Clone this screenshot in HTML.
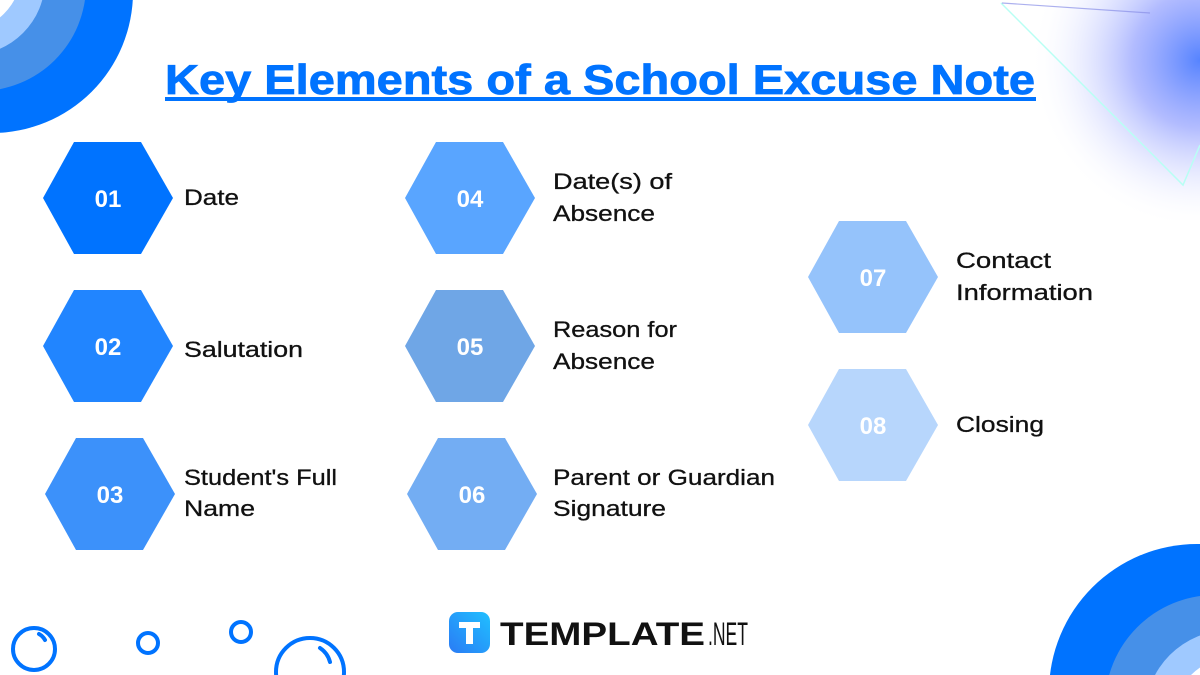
<!DOCTYPE html>
<html><head><meta charset="utf-8"><style>
html,body{margin:0;padding:0;background:#fff;width:1200px;height:675px;overflow:hidden;}
svg{display:block;}
</style></head><body>
<svg width="1200" height="675" viewBox="0 0 1200 675" xmlns="http://www.w3.org/2000/svg">
<defs>
<radialGradient id="glow" cx="1200" cy="60" r="170" gradientUnits="userSpaceOnUse">
<stop offset="0" stop-color="#4d7dff" stop-opacity="0.95"/>
<stop offset="0.4" stop-color="#7f8fff" stop-opacity="0.6"/>
<stop offset="1" stop-color="#ffffff" stop-opacity="0"/>
</radialGradient>
<linearGradient id="lg" x1="0" y1="1" x2="1" y2="0">
<stop offset="0" stop-color="#2a7bf5"/><stop offset="1" stop-color="#20c0ff"/>
</linearGradient>
</defs>
<rect width="1200" height="675" fill="#fff"/>
<rect x="1000" y="0" width="200" height="220" fill="url(#glow)"/>
<polyline points="1001,3 1183,185 1200,145" fill="none" stroke="#b8fff4" stroke-width="1.5"/>
<line x1="1002" y1="3" x2="1150" y2="13" stroke="#8a90e8" stroke-width="1.2" opacity="0.7"/>
<circle cx="-8" cy="-8" r="141" fill="#0073ff"/>
<circle cx="-20" cy="-15" r="106" fill="#4690e8"/>
<circle cx="-30" cy="-20" r="75" fill="#9fc9ff"/>
<circle cx="-40" cy="-30" r="62" fill="#fff"/>
<circle cx="1197" cy="692" r="148" fill="#0073ff"/>
<circle cx="1215" cy="705" r="110" fill="#4690e8"/>
<circle cx="1230" cy="715" r="85" fill="#9fc9ff"/>
<circle cx="1240" cy="725" r="70" fill="#fff"/>
<g fill="none" stroke="#0073ff" stroke-width="4">
<circle cx="34" cy="649" r="21"/>
<path d="M39,634 A15,15 0 0 1 45,640" stroke-linecap="round"/>
<circle cx="148" cy="643" r="10"/>
<circle cx="241" cy="632" r="10"/>
<circle cx="310" cy="672" r="34"/>
<path d="M320,648 A24,24 0 0 1 330,662" stroke-linecap="round"/>
</g>
<text x="600" y="94" text-anchor="middle" font-family="Liberation Sans, sans-serif" font-weight="bold" font-size="42" fill="#0073ff" stroke="#0073ff" stroke-width="0.8" textLength="870" lengthAdjust="spacingAndGlyphs">Key Elements of a School Excuse Note</text>
<rect x="165" y="97" width="871" height="4" fill="#0073ff"/>
<g font-family="Liberation Sans, sans-serif">
<g transform="translate(43,142)"><polygon points="0,56 31,0 98,0 130,56 98,112 31,112" fill="#0073ff"/><text x="65" y="65" text-anchor="middle" font-weight="bold" font-size="24" fill="#fff">01</text></g>
<g transform="translate(43,290)"><polygon points="0,56 31,0 98,0 130,56 98,112 31,112" fill="#2185ff"/><text x="65" y="65" text-anchor="middle" font-weight="bold" font-size="24" fill="#fff">02</text></g>
<g transform="translate(45,438)"><polygon points="0,56 31,0 98,0 130,56 98,112 31,112" fill="#3c91fa"/><text x="65" y="65" text-anchor="middle" font-weight="bold" font-size="24" fill="#fff">03</text></g>
<g transform="translate(405,142)"><polygon points="0,56 31,0 98,0 130,56 98,112 31,112" fill="#59a5ff"/><text x="65" y="65" text-anchor="middle" font-weight="bold" font-size="24" fill="#fff">04</text></g>
<g transform="translate(405,290)"><polygon points="0,56 31,0 98,0 130,56 98,112 31,112" fill="#6fa6e6"/><text x="65" y="65" text-anchor="middle" font-weight="bold" font-size="24" fill="#fff">05</text></g>
<g transform="translate(407,438)"><polygon points="0,56 31,0 98,0 130,56 98,112 31,112" fill="#73adf3"/><text x="65" y="65" text-anchor="middle" font-weight="bold" font-size="24" fill="#fff">06</text></g>
<g transform="translate(808,221)"><polygon points="0,56 31,0 98,0 130,56 98,112 31,112" fill="#95c3fb"/><text x="65" y="65" text-anchor="middle" font-weight="bold" font-size="24" fill="#fff">07</text></g>
<g transform="translate(808,369)"><polygon points="0,56 31,0 98,0 130,56 98,112 31,112" fill="#b7d6fc"/><text x="65" y="65" text-anchor="middle" font-weight="bold" font-size="24" fill="#fff">08</text></g>
<g font-size="22" fill="#111" stroke="#111" stroke-width="0.3">
<text x="184" y="205" textLength="55" lengthAdjust="spacingAndGlyphs">Date</text>
<text x="184" y="357" textLength="119" lengthAdjust="spacingAndGlyphs">Salutation</text>
<text x="184" y="485" textLength="153" lengthAdjust="spacingAndGlyphs">Student's Full</text><text x="184" y="516" textLength="71" lengthAdjust="spacingAndGlyphs">Name</text>
<text x="553" y="189" textLength="119" lengthAdjust="spacingAndGlyphs">Date(s) of</text><text x="553" y="221" textLength="102" lengthAdjust="spacingAndGlyphs">Absence</text>
<text x="553" y="337" textLength="124" lengthAdjust="spacingAndGlyphs">Reason for</text><text x="553" y="369" textLength="102" lengthAdjust="spacingAndGlyphs">Absence</text>
<text x="553" y="485" textLength="222" lengthAdjust="spacingAndGlyphs">Parent or Guardian</text><text x="553" y="516" textLength="113" lengthAdjust="spacingAndGlyphs">Signature</text>
<text x="956" y="268" textLength="95" lengthAdjust="spacingAndGlyphs">Contact</text><text x="956" y="300" textLength="137" lengthAdjust="spacingAndGlyphs">Information</text>
<text x="956" y="432" textLength="88" lengthAdjust="spacingAndGlyphs">Closing</text>
</g>
</g>
<rect x="449" y="612" width="41" height="41" rx="9" fill="url(#lg)"/>
<rect x="459" y="622" width="21" height="6" fill="#fff"/>
<rect x="466" y="622" width="7" height="22" fill="#fff"/>
<text x="500" y="645" font-family="Liberation Sans, sans-serif" font-weight="bold" font-size="32" fill="#111" textLength="205" lengthAdjust="spacingAndGlyphs">TEMPLATE</text>
<text x="708" y="645" font-family="Liberation Sans, sans-serif" font-size="32" fill="#111" textLength="40" lengthAdjust="spacingAndGlyphs">.NET</text>
</svg>
</body></html>
